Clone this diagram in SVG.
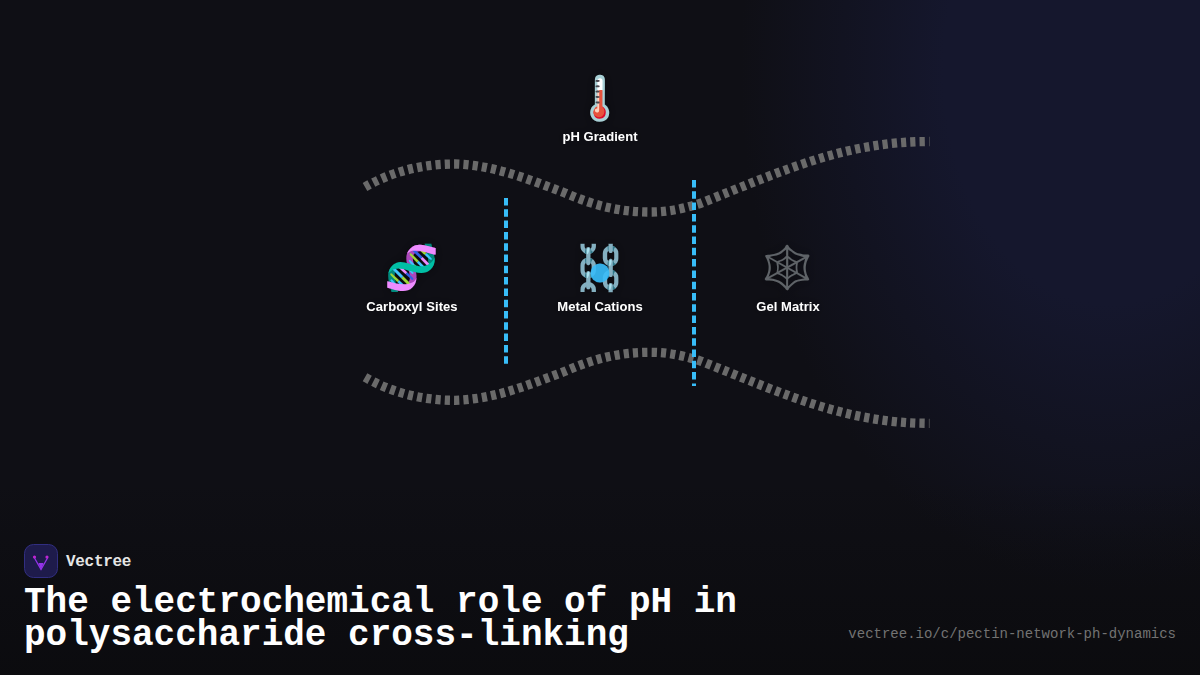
<svg xmlns="http://www.w3.org/2000/svg" width="1200" height="675" viewBox="0 0 1200 675">
<style>
.strand{fill:none;stroke:#6a6a6a;stroke-width:9.3;stroke-dasharray:5.2 4.1}
.barrier{fill:none;stroke:#38bdf8;stroke-width:4;stroke-dasharray:7.5 3.8}
.lbl{font:bold 13px "Liberation Sans",Arial,sans-serif;fill:#fff;text-anchor:middle;letter-spacing:.07px}
.emo{font-size:44px;font-family:"Noto Color Emoji","Noto Sans",sans-serif;text-anchor:middle}
.title{font:bold 36px "Liberation Mono","Courier New",monospace;fill:#fff}
.node{filter:url(#halo)}
</style>
<defs>
<radialGradient id="glow" gradientUnits="userSpaceOnUse" cx="0" cy="0" r="1" gradientTransform="translate(1110 70) scale(370 520)">
<stop offset="0" stop-color="#15172d"/><stop offset=".45" stop-color="#15172d"/><stop offset="1" stop-color="#15172d" stop-opacity="0"/>
</radialGradient>
<linearGradient id="fade" x1="0" y1="0" x2="0" y2="1">
<stop offset="0" stop-color="#0a0a0c" stop-opacity="0"/><stop offset="1" stop-color="#0a0a0c" stop-opacity=".7"/>
</linearGradient>
<filter id="halo" x="-40%" y="-40%" width="180%" height="180%"><feDropShadow dx="0" dy="0" stdDeviation="6" flood-color="#000" flood-opacity=".4"/></filter>
</defs>
<rect width="1200" height="675" fill="#0f0f15"/>
<rect width="1200" height="675" fill="url(#glow)"/>
<rect y="480" width="1200" height="195" fill="url(#fade)"/>
<g id="connectors">
<path class="strand" d="M365 187C395 170 425 164 455 164C495 165 530 180 565 193C595 206 620 212 650 212C670 212 685 208 700 203.5C785 170 845 141.5 929.5 141.5"/>
<path class="strand" d="M365 377.3C395 394.3 425 400.3 455 400.3C495 399.3 530 384.3 565 371.3C595 358.3 620 352.3 650 352.3C670 352.3 685 356.3 700 360.8C785 394.3 845 423.3 929.5 423.3"/>
<path class="barrier" d="M506 198V364"/>
<path class="barrier" d="M694 180V386"/>
</g>
<g id="node-ph" class="node"><text class="emo" x="600" y="113" style="font-size:43px">🌡️</text><text class="lbl" x="600" y="141.4">pH Gradient</text></g>
<g id="node-carboxyl" class="node"><text class="emo" x="412" y="283">🧬</text><text class="lbl" x="412" y="311.4">Carboxyl Sites</text></g>
<g id="node-cations" class="node"><text class="emo" x="600" y="283">⛓️</text><circle cx="600" cy="273" r="9.5" fill="#38bdf8" fill-opacity=".9"/><text class="lbl" x="600" y="311.4">Metal Cations</text></g>
<g id="node-gel" class="node"><text class="emo" x="788" y="282" style="font-size:42px">🕸️</text><text class="lbl" x="788" y="311.4">Gel Matrix</text></g>
<g id="brand">
<rect x="24.5" y="544.5" width="33" height="33" rx="9" fill="#1e1b4b" stroke="#312e81"/>
<path d="M34.5 558L41 569.5L47.5 558" fill="none" stroke="#9333ea" stroke-width="1.3"/>
<path d="M38.5 563L41 570L43.5 563" fill="#9333ea"/>
<circle cx="34.5" cy="557" r="1.6" fill="#c026d3"/><circle cx="47" cy="557" r="1.6" fill="#c026d3"/>
<text x="66" y="565.5" style="font:bold 16px 'Liberation Mono',monospace;letter-spacing:-.3px" fill="#e5e5e5">Vectree</text>
</g>
<text class="title" x="24" y="611.6">The electrochemical role of pH in</text>
<text class="title" x="24" y="644.6">polysaccharide cross-linking</text>
<text x="1176" y="638" text-anchor="end" style="font:14px 'Liberation Mono',monospace" fill="#737373">vectree.io/c/pectin-network-ph-dynamics</text>
</svg>
